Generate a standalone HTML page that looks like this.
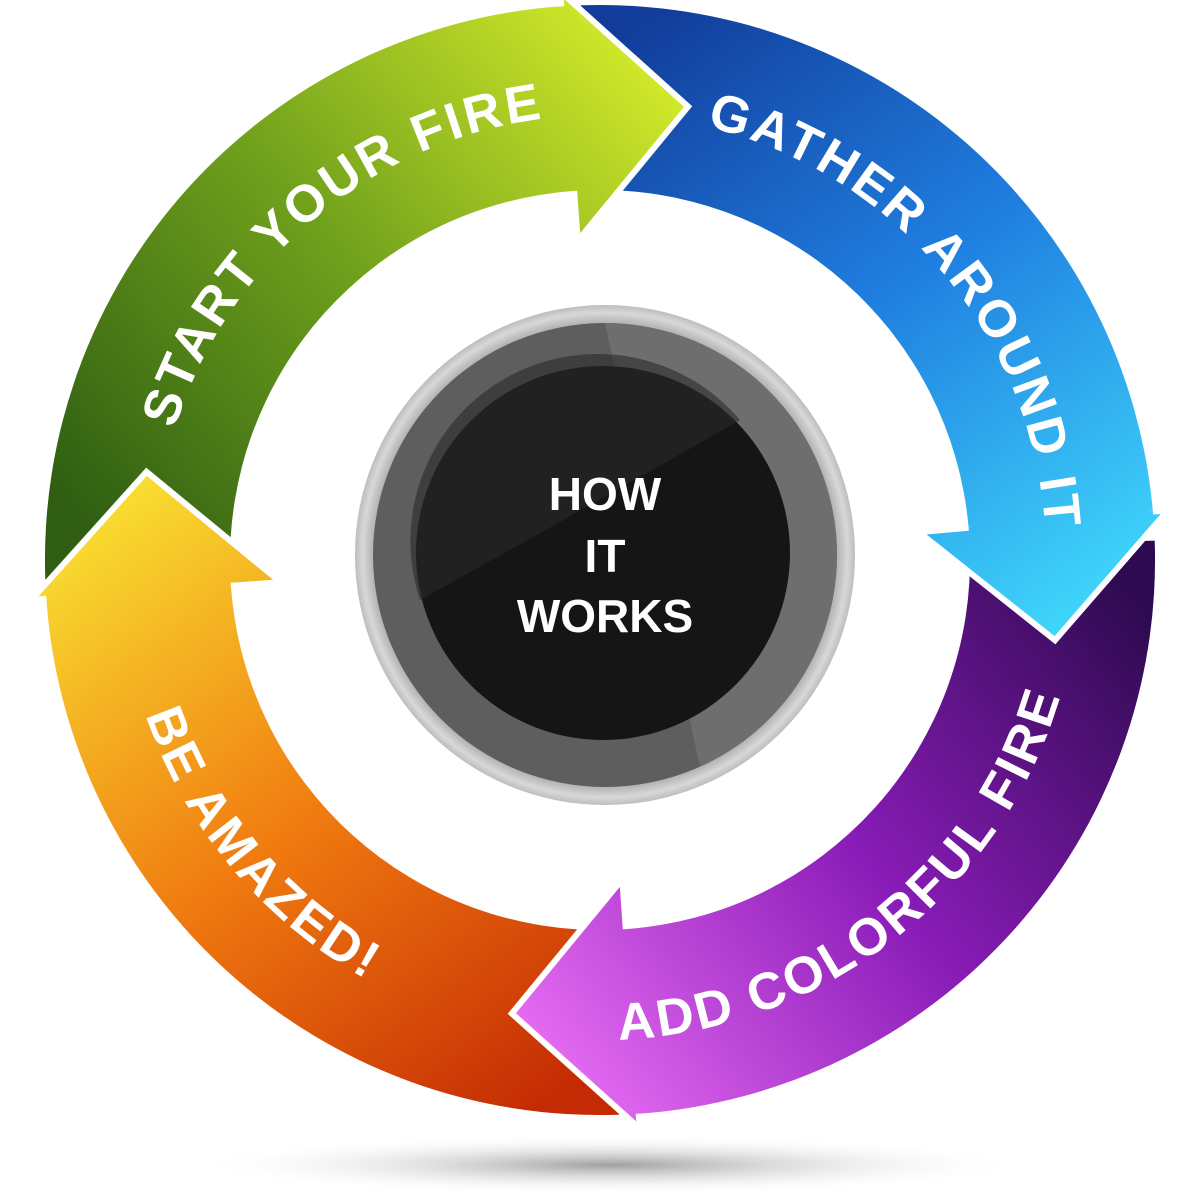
<!DOCTYPE html>
<html><head><meta charset="utf-8"><style>
html,body{margin:0;padding:0;background:#fff;}
svg{display:block;}
</style></head><body>
<svg width="1200" height="1200" viewBox="0 0 1200 1200" xmlns="http://www.w3.org/2000/svg">
<defs>
<linearGradient id="gG" gradientUnits="userSpaceOnUse" x1="80" y1="520" x2="640" y2="40">
<stop offset="0" stop-color="#2f5e12"/><stop offset="0.5" stop-color="#6fa01c"/><stop offset="1" stop-color="#d4ea2a"/></linearGradient>
<linearGradient id="gB" gradientUnits="userSpaceOnUse" x1="640" y1="20" x2="1060" y2="620">
<stop offset="0" stop-color="#123c9a"/><stop offset="0.5" stop-color="#1f7fe0"/><stop offset="1" stop-color="#3fd4fa"/></linearGradient>
<linearGradient id="gP" gradientUnits="userSpaceOnUse" x1="1140" y1="600" x2="540" y2="1060">
<stop offset="0" stop-color="#2e0a50"/><stop offset="0.5" stop-color="#8a1cb8"/><stop offset="1" stop-color="#e66cf2"/></linearGradient>
<linearGradient id="gO" gradientUnits="userSpaceOnUse" x1="560" y1="1100" x2="120" y2="500">
<stop offset="0" stop-color="#c42a04"/><stop offset="0.5" stop-color="#f07a10"/><stop offset="1" stop-color="#f8dc30"/></linearGradient>
<radialGradient id="ring" cx="0.5" cy="0.5" r="0.5">
<stop offset="0.9" stop-color="#9a9a9a"/><stop offset="0.97" stop-color="#d8d8d8"/><stop offset="1" stop-color="#bdbdbd"/></radialGradient>
<radialGradient id="shadow" cx="0.5" cy="0.5" r="0.5">
<stop offset="0" stop-color="#888" stop-opacity="0.8"/><stop offset="1" stop-color="#fff" stop-opacity="0"/></radialGradient>
<path id="tG" d="M161.8 637.3 A445 445 0 0 1 752.2 141.8"/>
<path id="tB" d="M522.7 121.8 A443 443 0 0 1 1018.2 712.2"/>
<path id="tP" d="M420.2 1005.1 A480 480 0 0 0 1075.3 493.2"/>
<path id="tO" d="M148.9 395.8 A480 480 0 0 0 683.3 1032.7"/>
</defs>
<ellipse cx="610" cy="1165" rx="420" ry="30" fill="url(#shadow)"/>

<path d="M45.3 579.4 A555 555 0 0 1 561.3 6.3 L574.2 190.9 A370 370 0 0 0 230.2 572.9 Z" fill="url(#gG)"/>
<path d="M580.6 5.3 A555 555 0 0 1 1152.9 511.6 L968.6 527.7 A370 370 0 0 0 587.1 190.2 Z" fill="url(#gB)"/>
<path d="M1154.7 540.6 A555 555 0 0 1 638.7 1113.7 L625.8 929.1 A370 370 0 0 0 969.8 547.1 Z" fill="url(#gP)"/>
<path d="M619.4 1114.7 A555 555 0 0 1 46.3 598.7 L230.9 585.8 A370 370 0 0 0 612.9 929.8 Z" fill="url(#gO)"/>

<g stroke="#fff" stroke-width="6" stroke-linejoin="miter">
<path d="M561.3 6.3 L560.2 -8.6 L688.1 106.5 L577.7 240.8 L574.2 190.9" fill="url(#gG)"/>
<path d="M1152.9 511.6 L1167.8 510.3 L1055 640.2 L918.8 532.1 L968.6 527.7" fill="url(#gB)"/>
<path d="M638.7 1113.7 L639.8 1128.6 L511.8 1013.5 L622.3 879.2 L625.8 929.1" fill="url(#gP)"/>
<path d="M46.3 598.7 L31.4 599.8 L146.5 471.8 L280.8 582.3 L230.9 585.8" fill="url(#gO)"/>
</g>
<path d="M562 10 L573.5 187" stroke="url(#gG)" stroke-width="8"/>
<path d="M1149 512 L972 527" stroke="url(#gB)" stroke-width="8"/>
<path d="M638.4 1110 L626 933" stroke="url(#gP)" stroke-width="8"/>
<path d="M50 598.4 L227 586" stroke="url(#gO)" stroke-width="8"/>

<g font-family="Liberation Sans, sans-serif" font-weight="bold" font-size="52" fill="#fff" letter-spacing="3">
<text><textPath href="#tG" startOffset="50%" text-anchor="middle">START YOUR FIRE</textPath></text>
<text><textPath href="#tB" startOffset="50%" text-anchor="middle">GATHER AROUND IT</textPath></text>
<text><textPath href="#tP" startOffset="50%" text-anchor="middle">ADD COLORFUL FIRE</textPath></text>
<text><textPath href="#tO" startOffset="50%" text-anchor="middle">BE AMAZED!</textPath></text>
</g>

<circle cx="605" cy="555" r="250" fill="url(#ring)"/>
<circle cx="605" cy="555" r="232" fill="#5e5e5e"/>
<path d="M605 323 A232 232 0 0 1 837 555 A232 232 0 0 1 700 767 Z" fill="#7a7a7a" opacity="0.6"/>
<circle cx="603" cy="553" r="187" fill="#151515"/>
<path d="M420 600 A187 187 0 0 1 740 420 Q600 500 420 600 Z" fill="#2a2a2a" opacity="0.6"/>
<g font-family="Liberation Sans, sans-serif" font-weight="bold" font-size="46" fill="#fff" text-anchor="middle">
<text x="605" y="510">HOW</text>
<text x="605" y="572">IT</text>
<text x="605" y="632">WORKS</text>
</g>
</svg>
</body></html>
